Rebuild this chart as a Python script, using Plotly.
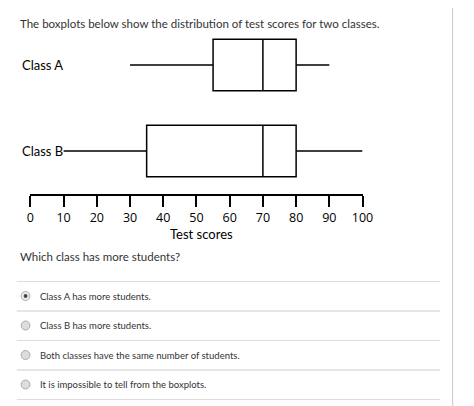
import plotly.graph_objects as go

classes = ['Class A', 'Class B']
mins = [30, 10]
q1s = [55, 35]
medians = [70, 70]
q3s = [80, 80]
maxs = [90, 100]
ypos = [2, 1]

options = ['Class A has more students.', 'Class B has more students.',
           'Both classes have the same number of students.',
           'It is impossible to tell from the boxplots.']

fig = go.Figure()
for i, name in enumerate(classes):
    fig.add_trace(go.Box(
        y=[ypos[i]], q1=[q1s[i]], median=[medians[i]], q3=[q3s[i]],
        lowerfence=[mins[i]], upperfence=[maxs[i]], orientation='h',
        width=0.6, whiskerwidth=0, fillcolor='white',
        line=dict(color='black', width=1.5), hoverinfo='skip'))

W, H = 474, 406
def px(x): return x / W
def py(y): return 1 - y / H

ann = [
    dict(text='The boxplots below show the distribution of test scores for two classes.',
         x=px(6), y=py(15), font=dict(size=11.5, color='#333')),
    dict(text='Class A', x=px(8), y=py(57), font=dict(size=13, color='black')),
    dict(text='Class B', x=px(8), y=py(143), font=dict(size=13, color='black')),
    dict(text='Test scores', x=px(161), y=py(226), font=dict(size=13, color='black')),
    dict(text='Which class has more students?', x=px(6), y=py(248), font=dict(size=11.5, color='#333')),
]

shapes = [dict(type='line', xref='paper', yref='paper', x0=px(455), x1=px(455), y0=0, y1=1,
               line=dict(color='#ccc', width=1)),
          # class B whisker continues left to the label
          ]
for k, opt in enumerate(options):
    yc = 288 + k * 29.5
    ann.append(dict(text=opt, x=px(27), y=py(yc), font=dict(size=9.5, color='#333')))
    shapes.append(dict(type='circle', xref='paper', yref='paper',
                       x0=px(9.5), x1=px(18.5), y0=py(yc + 4.5), y1=py(yc - 4.5),
                       line=dict(color='#aaa', width=1),
                       fillcolor='#ddd' if k else '#eee'))
    if k == 0:
        shapes.append(dict(type='circle', xref='paper', yref='paper',
                           x0=px(12), x1=px(16), y0=py(yc + 2), y1=py(yc - 2),
                           line=dict(width=0), fillcolor='#444'))
    for yl in [yc - 14.5, yc + 15]:
        shapes.append(dict(type='line', xref='paper', yref='paper', x0=px(5), x1=px(442),
                           y0=py(yl), y1=py(yl), line=dict(color='#ddd', width=1)))

for a in ann:
    a.update(xref='paper', yref='paper', xanchor='left', yanchor='middle', showarrow=False)

fig.update_layout(
    width=W, height=H, margin=dict(l=0, r=0, t=0, b=0),
    paper_bgcolor='white', plot_bgcolor='white', showlegend=False,
    font=dict(family='Lato, Open Sans, sans-serif'),
    annotations=ann, shapes=shapes,
    xaxis=dict(domain=[px(19), px(362)], range=[0, 100], tickvals=list(range(0, 101, 10)),
               ticks='outside', ticklen=11, tickwidth=1.5, tickcolor='black', showline=True,
               linecolor='black', linewidth=1.5, showgrid=False, zeroline=False,
               tickfont=dict(size=12.5, color='black', family='Open Sans')),
    yaxis=dict(domain=[py(186), 1], range=[0.5, 2.663], visible=False, fixedrange=True),
)
fig.write_html('out.html')
